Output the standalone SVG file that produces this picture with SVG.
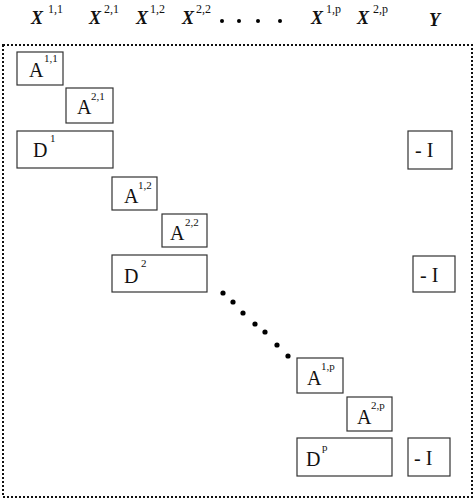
<svg xmlns="http://www.w3.org/2000/svg" width="474" height="503" viewBox="0 0 474 503">
<style>
.b{fill:#fff;stroke:#333;stroke-width:1.2}
.t{font-family:"Liberation Serif",serif;font-size:20px;fill:#111}
.s{font-family:"Liberation Serif",serif;font-size:11px;fill:#111}
.h{font-family:"Liberation Serif",serif;font-size:18px;font-weight:bold;font-style:italic;fill:#111}
.hs{font-family:"Liberation Serif",serif;font-size:12px;fill:#111}
.d{fill:#000}
</style>
<rect width="474" height="503" fill="#fff"/>
<g id="header">
<text class="h" x="31" y="24">X</text><text class="hs" x="48" y="13">1,1</text>
<text class="h" x="89" y="24">X</text><text class="hs" x="104" y="13">2,1</text>
<text class="h" x="136" y="24">X</text><text class="hs" x="150" y="13">1,2</text>
<text class="h" x="182" y="24">X</text><text class="hs" x="196" y="13">2,2</text>
<circle class="d" cx="222" cy="21" r="2"/><circle class="d" cx="239" cy="21" r="2"/><circle class="d" cx="258" cy="21" r="2"/><circle class="d" cx="280" cy="21" r="2"/>
<text class="h" x="311" y="24">X</text><text class="hs" x="326" y="13">1,p</text>
<text class="h" x="357" y="24">X</text><text class="hs" x="373" y="13">2,p</text>
<text class="h" x="429" y="26">Y</text>
</g>
<rect x="3" y="45" width="469" height="452" fill="none" stroke="#111" stroke-width="2" stroke-dasharray="2 2"/>
<g id="A11"><rect class="b" x="17" y="52" width="46" height="33"/><text class="t" x="29" y="77">A</text><text class="s" x="44" y="62">1,1</text></g>
<g id="A21"><rect class="b" x="66" y="88" width="47" height="35"/><text class="t" x="77" y="114">A</text><text class="s" x="91" y="100">2,1</text></g>
<g id="D1"><rect class="b" x="17" y="131" width="96" height="37"/><text class="t" x="33" y="157">D</text><text class="s" x="50" y="142">1</text></g>
<g id="I1"><rect class="b" x="408" y="131" width="44" height="38"/><text class="t" x="415" y="157">- I</text></g>
<g id="A12"><rect class="b" x="112" y="177" width="45" height="33"/><text class="t" x="124" y="203">A</text><text class="s" x="138" y="189">1,2</text></g>
<g id="A22"><rect class="b" x="162" y="214" width="45" height="33"/><text class="t" x="170" y="240">A</text><text class="s" x="185" y="226">2,2</text></g>
<g id="D2"><rect class="b" x="112" y="255" width="95" height="37"/><text class="t" x="124" y="283">D</text><text class="s" x="141" y="267">2</text></g>
<g id="I2"><rect class="b" x="413" y="256" width="42" height="36"/><text class="t" x="420" y="282">- I</text></g>
<g id="dots">
<circle class="d" cx="223" cy="293" r="2.6"/><circle class="d" cx="233" cy="302" r="2.6"/><circle class="d" cx="243" cy="313" r="2.6"/><circle class="d" cx="255" cy="324" r="2.6"/><circle class="d" cx="265" cy="332" r="2.6"/><circle class="d" cx="277" cy="345" r="2.6"/><circle class="d" cx="288" cy="356" r="2.6"/>
</g>
<g id="A1p"><rect class="b" x="297" y="358" width="46" height="35"/><text class="t" x="307" y="385">A</text><text class="s" x="321" y="370">1,p</text></g>
<g id="A2p"><rect class="b" x="347" y="397" width="45" height="34"/><text class="t" x="357" y="424">A</text><text class="s" x="371" y="409">2,p</text></g>
<g id="Dp"><rect class="b" x="297" y="438" width="95" height="38"/><text class="t" x="306" y="466">D</text><text class="s" x="322" y="451">p</text></g>
<g id="Ip"><rect class="b" x="408" y="438" width="42" height="38"/><text class="t" x="414" y="465">- I</text></g>
</svg>
